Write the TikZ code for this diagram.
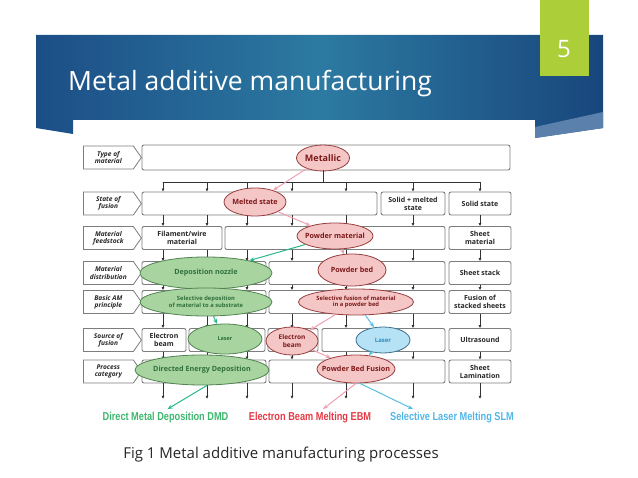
\documentclass[tikz,border=0pt]{standalone}
\usepackage{fontspec}
\setmainfont{Open Sans}
\newfontfamily\narrowfont[FakeStretch=0.8]{Liberation Sans}
\usepackage{tkz-euclide}
\usetikzlibrary{calc,shapes.geometric,shapes.symbols,arrows.meta}

\definecolor{bandA}{RGB}{28,78,134}
\definecolor{bandB}{RGB}{44,122,162}
\definecolor{bandC}{RGB}{24,70,124}
\definecolor{bandfold}{RGB}{92,128,172}
\definecolor{tabgreen}{RGB}{172,206,56}
\definecolor{boxgray}{RGB}{125,125,125}
\definecolor{linegray}{RGB}{50,50,50}
\definecolor{pinkfill}{RGB}{245,198,198}
\definecolor{pinkdraw}{RGB}{150,62,62}
\definecolor{pinktext}{RGB}{125,25,25}
\definecolor{greenfill}{RGB}{168,212,160}
\definecolor{greendraw}{RGB}{82,130,82}
\definecolor{greentext}{RGB}{48,112,60}
\definecolor{bluefill}{RGB}{182,226,245}
\definecolor{bluedraw}{RGB}{62,112,142}
\definecolor{bluetext}{RGB}{50,140,190}
\definecolor{pinkarrow}{RGB}{240,160,176}
\definecolor{greenarrow}{RGB}{40,182,140}
\definecolor{bluearrow}{RGB}{84,190,226}
\definecolor{dmdgreen}{RGB}{62,182,112}
\definecolor{ebmred}{RGB}{228,58,70}
\definecolor{slmblue}{RGB}{82,182,232}

\tikzset{
  rowlab/.style={signal, signal to=east, signal pointer angle=110, draw=boxgray,
    line width=0.8pt, fill=white, minimum width=58pt, minimum height=23pt,
    inner sep=1pt, align=center, anchor=west, text=black!85,
    font=\fontsize{6.6}{7.4}\selectfont\bfseries\itshape},
  cellbox/.style={draw=boxgray, line width=0.9pt, rounded corners=2pt, fill=white,
    minimum height=23pt, inner sep=1pt, align=center, text=black!85,
    font=\fontsize{7}{8}\selectfont\bfseries},
  ellbase/.style={ellipse, line width=0.8pt, inner xsep=-14pt, inner ysep=-3pt,
    align=center, font=\fontsize{7.2}{8}\selectfont\bfseries},
  pinkell/.style={ellbase, draw=pinkdraw, fill=pinkfill, text=pinktext},
  greenell/.style={ellbase, draw=greendraw, fill=greenfill, text=greentext},
  blueell/.style={ellbase, draw=bluedraw, fill=bluefill, text=bluetext},
  droparrow/.style={draw=linegray, line width=0.8pt, -{Latex[length=3pt,width=3pt]}},
  pinkarr/.style={draw=pinkarrow, line width=1pt, -{Stealth[length=5pt,width=4pt]}},
  greenarr/.style={draw=greenarrow, line width=1pt, -{Stealth[length=5pt,width=4pt]}},
  bluearr/.style={draw=bluearrow, line width=1pt, -{Stealth[length=5pt,width=4pt]}},
  endtext/.style={font=\narrowfont\fontsize{11.5}{11.5}\selectfont\bfseries}
}

\begin{document}
\begin{tikzpicture}[x=1pt,y=-1pt]
    \useasboundingbox (0,0) rectangle (638,478);
    \shade[left color=bandA, right color=bandC, middle color=bandB]
        (36,35) -- (603,35) -- (603,128) -- (535,138) -- (535,120) -- (73,120)
        -- (73,134) -- (36,128) -- cycle;
    \fill[bandfold] (535,127) -- (603,112) -- (603,128) -- (535,138) -- cycle;
    \fill[tabgreen] (540,0) rectangle (589,76);
    \node[white, anchor=base, font=\fontsize{24}{24}\selectfont] (Pg) at (564,58) {5};
    \node[white, anchor=base west, inner sep=0pt, font=\fontsize{26.5}{26.5}\selectfont] (Ttl)
        at (68,91) {Metal additive manufacturing};

    \foreach \n/\y/\t in {1/157.5/{Type of\\material}, 2/203.5/{State of\\fusion},
        3/238/{Material\\feedstock}, 4/273/{Material\\distribution}, 5/302/{Basic AM\\principle},
        6/340/{Source of\\fusion}, 7/371.5/{Process\\category}}
        \node[rowlab] (L\n) at (83,\y) {\t};

    \node[cellbox, minimum width=368pt, minimum height=25pt] (B1) at (326,157.5) {};
    \node[cellbox, minimum width=235pt] (B2) at (259.5,203.5) {};
    \node[cellbox, minimum width=64pt] (Sm) at (413,203.5) {Solid + melted\\state};
    \node[cellbox, minimum width=80pt] (Fw) at (182,238) {Filament/wire\\material};
    \node[cellbox, minimum width=220pt] (B3) at (335,238) {};
    \foreach \r/\y in {4/273, 5/302, 7/371.5} {
        \node[cellbox, minimum width=124pt] (B\r-a) at (204,\y) {};
        \node[cellbox, minimum width=176pt] (B\r-b) at (357,\y) {};
    }
    \node[cellbox, minimum width=44pt] (Eb) at (164,340) {Electron\\beam};
    \node[cellbox, minimum width=76pt] (B6-a) at (227,340) {};
    \node[cellbox, minimum width=50pt] (B6-b) at (293,340) {};
    \node[cellbox, minimum width=123pt] (B6-c) at (383.5,340) {};
    \foreach \r/\y/\t in {2/203.5/{Solid state}, 3/238/{Sheet\\material}, 4/273/{Sheet stack},
        5/302/{Fusion of\\stacked sheets}, 6/340/{Ultrasound}, 7/371.5/{Sheet\\Lamination}}
        \node[cellbox, minimum width=62pt] (R\r) at (480,\y) {\t};

    \tkzDefPoint(163,182){C1}
    \tkzDefPoint(207,182){C2}
    \tkzDefPoint(247,182){C3}
    \tkzDefPoint(292,182){C4}
    \tkzDefPoint(346,182){C5}
    \tkzDefPoint(413,182){C6}
    \tkzDefPoint(480,182){C7}
    \tkzDefPoint(0,399){Bt}
    \tkzDrawSegment[linegray, line width=0.8pt](C1,C7)
    \foreach \c in {1,...,7} {
        \draw[droparrow] (C\c) -- (L2.north -| C\c);
        \draw[droparrow] (L7.south -| C\c) -- (Bt -| C\c);
    }
    \foreach \i/\j in {2/3, 3/4, 4/5, 5/6, 6/7}
        \foreach \c in {1,...,7}
            \draw[droparrow] (L\i.south -| C\c) -- (L\j.north -| C\c);

    \node[pinkell, minimum width=53pt, minimum height=26pt,
        font=\fontsize{9}{9}\selectfont\bfseries] (Met) at (323,158) {Metallic};
    \node[pinkell, minimum width=62pt, minimum height=28pt] (Mel) at (255,202) {Melted state};
    \node[pinkell, minimum width=76pt, minimum height=26pt] (Pm) at (335,236) {Powder material};
    \node[greenell, minimum width=132pt, minimum height=32pt] (Dn) at (206,273) {Deposition nozzle};
    \node[pinkell, minimum width=68pt, minimum height=32pt] (Pb) at (352,270) {Powder bed};
    \node[greenell, minimum width=132pt, minimum height=28pt, font=\fontsize{5.8}{6.8}\selectfont\bfseries]
        (Sd) at (206,302) {Selective deposition\\of material to a substrate};
    \node[pinkell, minimum width=115pt, minimum height=26pt, font=\fontsize{5.8}{6.8}\selectfont\bfseries]
        (Sf) at (356,302) {Selective fusion of material\\in a powder bed};
    \node[greenell, minimum width=74pt, minimum height=30pt, font=\fontsize{5.5}{6.5}\selectfont\bfseries]
        (Lg) at (225,339) {Laser};
    \node[pinkell, minimum width=52pt, minimum height=28pt, font=\fontsize{6.5}{7.5}\selectfont\bfseries]
        (Ebp) at (292,341) {Electron\\beam};
    \node[blueell, minimum width=54pt, minimum height=26pt, font=\fontsize{6}{7}\selectfont\bfseries]
        (Lb) at (383,340) {Laser};
    \node[greenell, minimum width=134pt, minimum height=30pt] (Ded) at (202,370) {Directed Energy Deposition};
    \node[pinkell, minimum width=78pt, minimum height=28pt] (Pbf) at (356,369) {Powder Bed Fusion};
    \draw[linegray, line width=0.8pt] (B1.south -| Met) -- (C1 -| Met);

    \node[endtext, text=dmdgreen] (Dmd) at (165.5,418) {Direct Metal Deposition DMD};
    \node[endtext, text=ebmred] (Ebm) at (310,418) {Electron Beam Melting EBM};
    \node[endtext, text=slmblue] (Slm) at (452,418) {Selective Laser Melting SLM};

    \draw[pinkarr] (Met) -- (Mel);
    \draw[pinkarr] (Mel) -- (Pm);
    \draw[greenarr] (Pm) -- (Dn);
    \draw[pinkarr] (Pm) -- (Pb);
    \draw[greenarr] (Sd) -- (Lg);
    \draw[pinkarr] (Sf) -- (Ebp);
    \draw[bluearr] (Sf) -- (Lb);
    \draw[pinkarr] (Ebp) -- (Pbf);
    \draw[bluearr] (Lb) -- (Pbf);
    \draw[greenarr] ([xshift=5pt]Ded.south) -- ([xshift=2pt]Dmd.north);
    \draw[pinkarr] (Pbf.south) -- ([xshift=13pt]Ebm.north);
    \draw[bluearr] ([xshift=4pt]Pbf.south) -- ([xshift=-39pt]Slm.north);
    %\draw[help lines] (0,0) grid[step=20] (638,478);

    \node[text=black!85, font=\fontsize{15}{15}\selectfont] (Cap) at (281,455)
        {Fig 1 Metal additive manufacturing processes};
\end{tikzpicture}
\end{document}
